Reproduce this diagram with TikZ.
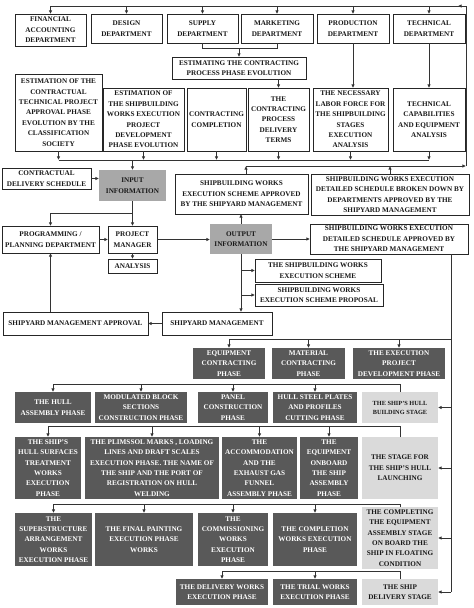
\documentclass[tikz,border=0pt]{standalone}
\usepackage{fontspec}
\setmainfont{Liberation Serif}
\usetikzlibrary{arrows.meta}
\definecolor{dk}{HTML}{595959}
\definecolor{lt}{HTML}{DADADA}
\definecolor{md}{HTML}{A8A8A8}
\definecolor{ln}{HTML}{333333}
\newcommand{\bbx}[7]{\node[#2, minimum width={(#5-#3)*1pt}, minimum height={(#6-#4)*1pt}] (#1) at ({(#3+#5)/2},{(#4+#6)/2}) {#7};}
\begin{document}
\begin{tikzpicture}[x=1pt,y=-1pt,
  font={\fontsize{7.2}{10.4}\selectfont\bfseries},
  wbox/.style={draw=black!85, line width=0.9pt, fill=white, inner sep=0pt, outer sep=0pt, align=center, text=black!90},
  gbox/.style={fill=md, inner sep=0pt, outer sep=0pt, align=center, text=black!90},
  dbox/.style={fill=dk, text=white, inner sep=0pt, outer sep=0pt, align=center},
  lbox/.style={fill=lt, text=black!90, inner sep=0pt, outer sep=0pt, align=center},
  smallf/.style={font={\fontsize{6.3}{9}\selectfont\bfseries}},
  line/.style={draw=ln, line width=0.8pt},
  arr/.style={line, -{Latex[length=3.6pt,width=3.4pt]}}]
\fill[white] (0,0) rectangle (474,608);
\useasboundingbox (0,0) rectangle (474,608);
% departments
\bbx{fin}{wbox}{15}{14}{86}{46}{FINANCIAL\\ACCOUNTING\\DEPARTMENT}
\bbx{des}{wbox}{91}{14}{162}{43}{DESIGN\\DEPARTMENT}
\bbx{sup}{wbox}{167}{14}{238}{43}{SUPPLY\\DEPARTMENT}
\bbx{mkt}{wbox}{241}{14}{313}{43}{MARKETING\\DEPARTMENT}
\bbx{prod}{wbox}{317}{14}{389}{43}{PRODUCTION\\DEPARTMENT}
\bbx{tech}{wbox}{393}{14}{465}{43}{TECHNICAL\\DEPARTMENT}
\bbx{est}{wbox}{172}{57}{306}{79}{ESTIMATING THE CONTRACTING\\PROCESS PHASE EVOLUTION}
% estimation row
\bbx{eA}{wbox}{15}{74}{102}{151}{ESTIMATION OF THE\\CONTRACTUAL\\TECHNICAL PROJECT\\APPROVAL PHASE\\EVOLUTION BY THE\\CLASSIFICATION\\SOCIETY}
\bbx{eB}{wbox}{103}{88}{184}{151}{ESTIMATION OF\\THE SHIPBUILDING\\WORKS EXECUTION\\PROJECT\\DEVELOPMENT\\PHASE EVOLUTION}
\bbx{eC}{wbox}{187}{88}{246}{151}{CONTRACTING\\COMPLETION}
\bbx{eD}{wbox}{248}{88}{309}{151}{THE\\CONTRACTING\\PROCESS\\DELIVERY\\TERMS}
\bbx{eE}{wbox}{313}{88}{388}{151}{THE NECESSARY\\LABOR FORCE FOR\\THE SHIPBUILDING\\STAGES\\EXECUTION\\ANALYSIS}
\bbx{eF}{wbox}{393}{88}{465}{151}{TECHNICAL\\CAPABILITIES\\AND EQUIPMENT\\ANALYSIS}
% middle
\bbx{cds}{wbox}{2}{168}{91}{189}{CONTRACTUAL\\DELIVERY SCHEDULE}
\bbx{inp}{gbox}{99}{170}{166}{201}{INPUT\\INFORMATION}
\bbx{sap}{wbox}{175}{174}{308}{214}{SHIPBUILDING WORKS\\EXECUTION SCHEME APPROVED\\BY THE SHIPYARD MANAGEMENT}
\bbx{sbd}{wbox}{311}{174}{469}{215}{SHIPBUILDING WORKS EXECUTION\\DETAILED SCHEDULE BROKEN DOWN BY\\DEPARTMENTS APPROVED BY THE\\SHIPYARD MANAGEMENT}
\bbx{prog}{wbox}{2}{226}{99}{253}{PROGRAMMING /\\PLANNING DEPARTMENT}
\bbx{pm}{wbox}{108}{226}{157}{253}{PROJECT\\MANAGER}
\bbx{ana}{wbox}{108}{259}{157}{273}{ANALYSIS}
\bbx{out}{gbox}{210}{224}{272}{254}{OUTPUT\\INFORMATION}
\bbx{sda}{wbox}{310}{224}{468}{254}{SHIPBUILDING WORKS EXECUTION\\DETAILED SCHEDULE APPROVED BY\\THE SHIPYARD MANAGEMENT}
\bbx{ws1}{wbox}{255}{259}{381}{282}{THE SHIPBUILDING WORKS\\EXECUTION SCHEME}
\bbx{ws2}{wbox}{255}{284}{383}{306}{SHIPBUILDING WORKS\\EXECUTION SCHEME PROPOSAL}
\bbx{smg}{wbox}{162}{312}{272}{335}{SHIPYARD MANAGEMENT}
\bbx{sma}{wbox}{3}{312}{148}{335}{SHIPYARD MANAGEMENT APPROVAL}
% phases
\bbx{ec}{dbox}{193}{348}{265}{379}{EQUIPMENT\\CONTRACTING\\PHASE}
\bbx{mc}{dbox}{272}{348}{345}{379}{MATERIAL\\CONTRACTING\\PHASE}
\bbx{ep}{dbox}{353}{348}{445}{379}{THE EXECUTION\\PROJECT\\DEVELOPMENT PHASE}
\bbx{ha}{dbox}{15}{392}{91}{423}{THE HULL\\ASSEMBLY PHASE}
\bbx{mb}{dbox}{95}{392}{187}{423}{MODULATED BLOCK\\SECTIONS\\CONSTRUCTION PHASE}
\bbx{pc}{dbox}{198}{392}{268}{423}{PANEL\\CONSTRUCTION\\PHASE}
\bbx{hs}{dbox}{273}{392}{357}{423}{HULL STEEL PLATES\\AND PROFILES\\CUTTING PHASE}
\bbx{st1}{lbox,smallf}{362}{392}{438}{423}{THE SHIP’S HULL\\BUILDING STAGE}
\bbx{r5a}{dbox}{15}{437}{81}{499}{THE SHIP’S\\HULL SURFACES\\TREATMENT\\WORKS\\EXECUTION\\PHASE}
\bbx{r5b}{dbox}{85}{437}{219}{499}{THE PLIMSSOL MARKS , LOADING\\LINES AND DRAFT SCALES\\EXECUTION PHASE. THE NAME OF\\THE SHIP AND THE PORT OF\\REGISTRATION ON HULL\\WELDING}
\bbx{r5c}{dbox}{222}{437}{297}{499}{THE\\ACCOMMODATION\\AND THE\\EXHAUST GAS\\FUNNEL\\ASSEMBLY PHASE}
\bbx{r5d}{dbox}{300}{437}{358}{499}{THE\\EQUIPMENT\\ONBOARD\\THE SHIP\\ASSEMBLY\\PHASE}
\bbx{st2}{lbox}{362}{437}{438}{499}{THE STAGE FOR\\THE SHIP’S HULL\\LAUNCHING}
\bbx{r6a}{dbox}{15}{513}{92}{566}{THE\\SUPERSTRUCTURE\\ARRANGEMENT\\WORKS\\EXECUTION PHASE}
\bbx{r6b}{dbox}{95}{513}{193}{566}{THE FINAL PAINTING\\EXECUTION PHASE\\WORKS}
\bbx{r6c}{dbox}{198}{513}{268}{566}{THE\\COMMISSIONING\\WORKS\\EXECUTION\\PHASE}
\bbx{r6d}{dbox}{273}{513}{357}{566}{THE COMPLETION\\WORKS EXECUTION\\PHASE}
\bbx{st3}{lbox}{362}{507}{438}{569}{THE COMPLETING\\THE EQUIPMENT\\ASSEMBLY STAGE\\ON BOARD THE\\SHIP IN FLOATING\\CONDITION}
\bbx{r7a}{dbox}{176}{579}{268}{605}{THE DELIVERY WORKS\\EXECUTION PHASE}
\bbx{r7b}{dbox}{273}{579}{357}{605}{THE TRIAL WORKS\\EXECUTION PHASE}
\bbx{st4}{lbox}{362}{579}{438}{605}{THE SHIP\\DELIVERY STAGE}
% feedback loop
\coordinate (fbL) at (246,166);
\coordinate (fbM) at (390,166);
\coordinate (fbR) at (466,166);
\coordinate (fbT) at (466,6);
\coordinate (fbE) at (50.5,6);
\draw[arr] (sap.north -| fbL) -- (fbL);
\draw[arr] (sbd.north -| fbM) -- (fbM);
\draw[arr] (fbL) -- (fbR);
\draw[line] (fbR) -- (fbT) -- (fbE);
\draw[arr] (fbT) -- ++(-8,0);
\foreach \n in {fin,des,sup,mkt,prod,tech} \draw[arr] (\n.north |- fbT) -- (\n.north);
% supply / marketing
\coordinate (sm) at (239,48);
\draw[line] (sup.south) |- (sm);
\draw[line] (mkt.south) |- (sm);
\draw[arr] (sm) -- (est.north);
\draw[arr] (est.south -| eD.north) -- (eD.north);
\draw[arr] (prod.south) -- (prod.south |- eE.north);
\draw[arr] (tech.south) -- (tech.south |- eF.north);
% collector
\coordinate (cL) at (0,160);
\draw[line] (eA.south |- cL) -- (eF.south |- cL);
\foreach \n in {eA,eB,eC,eD,eE,eF} \draw[arr] (\n.south) -- (\n.south |- cL);
\draw[arr] (inp.north |- cL) -- (inp.north);
\draw[arr] (cds.east) -- (cds.east -| inp.west);
% input to programming / manager
\coordinate (ip) at (132.5,213);
\draw[line] (inp.south) -- (ip);
\draw[arr] (ip) -| (prog.north);
\draw[arr] (ip) -- (pm.north);
\draw[arr] (prog.east) -- (pm.west);
\draw[arr] (pm.east) -- (pm.east -| out.west);
\draw[arr] (pm.south) -- (ana.north);
\draw[arr] (out.east) -- (out.east -| sda.west);
\draw[arr] (out.north) -- (out.north |- sap.south);
\draw[arr] (out.south) -- (out.south |- smg.north);
\draw[arr] (out.south |- ws1.west) -- (ws1.west);
\draw[arr] (out.south |- ws2.west) -- (ws2.west);
\draw[arr] (smg.west) -- (smg.west -| sma.east);
\draw[arr] (sma.north -| prog.south) -- (prog.south);
% right bus
\coordinate (vb) at (451,592);
\draw[line] (sda.south -| vb) -- (vb);
\coordinate (b1) at (451,339);
\draw[line] (b1) -- (b1 -| ec.north);
\foreach \n in {ec,mc,ep} \draw[arr] (\n.north |- b1) -- (\n.north);
\foreach \n in {st1,st2,st3,st4} \draw[arr] (\n.east -| vb) -- (\n.east);
% stage buses
\coordinate (r4) at (0,384);
\draw[line] (st1.north) -- (st1.north |- r4) -- (ha.north |- r4);
\foreach \n in {ha,mb,pc,hs} \draw[arr] (\n.north |- r4) -- (\n.north);
\coordinate (r5) at (0,426.5);
\draw[line] (st2.north) -- (st2.north |- r5) -- (r5a.north |- r5);
\foreach \n in {r5a,r5b,r5c,r5d} \draw[arr] (\n.north |- r5) -- (\n.north);
\coordinate (r6) at (0,504);
\draw[line] (st3.north) -- (st3.north |- r6) -- (r6a.north |- r6);
\foreach \n in {r6a,r6b,r6c,r6d} \draw[arr] (\n.north |- r6) -- (\n.north);
\coordinate (r7) at (0,571.5);
\draw[line] (st4.north) -- (st4.north |- r7) -- (r7a.north |- r7);
\foreach \n in {r7a,r7b} \draw[arr] (\n.north |- r7) -- (\n.north);
\end{tikzpicture}
\end{document}
